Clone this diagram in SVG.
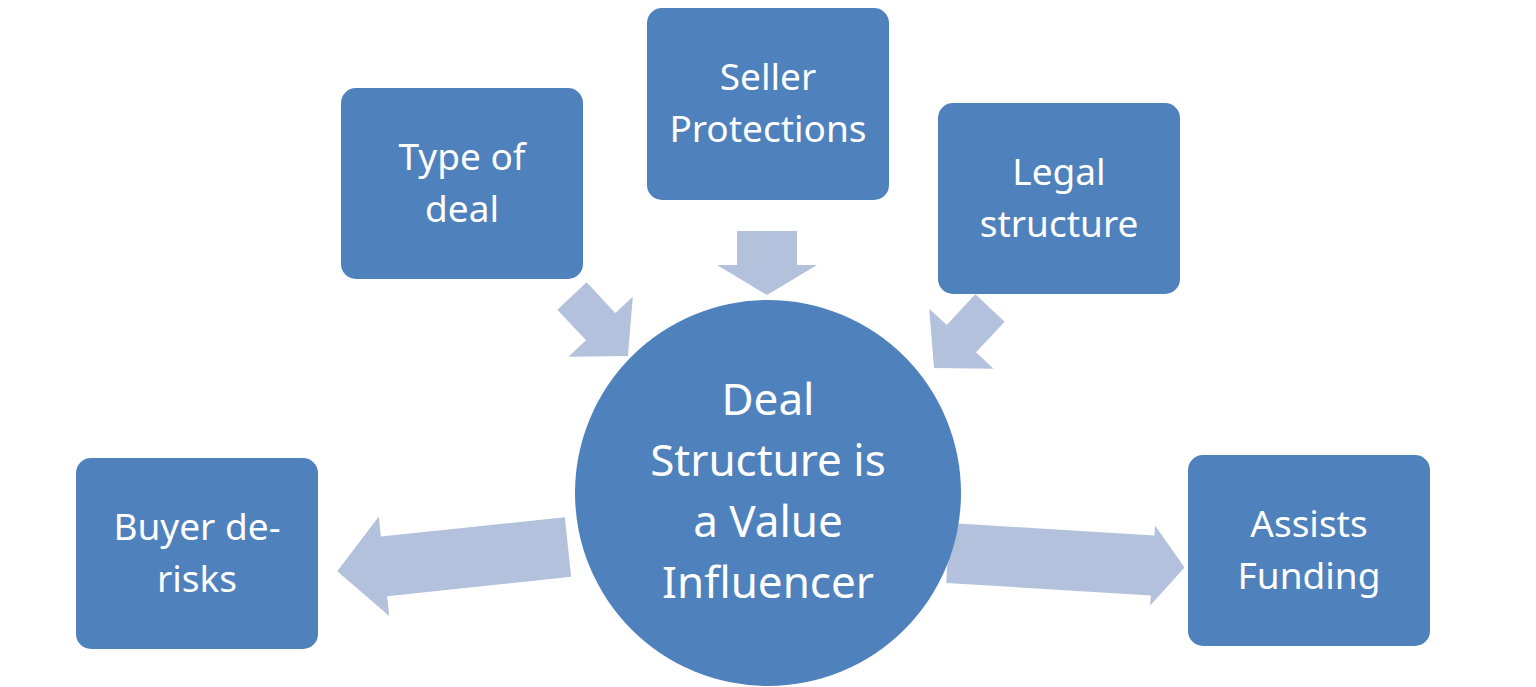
<svg xmlns="http://www.w3.org/2000/svg" width="1536" height="687" viewBox="0 0 1536 687">
<style>
.box{fill:#4F81BD;}
.arr{fill:#B3C1DD;}
.t{font-family:"Noto Sans","Open Sans",sans-serif;font-size:37px;fill:#fff;text-anchor:middle;}
.c{font-size:44px;}
</style>
<rect width="1536" height="687" fill="#fff"/>
<g id="connectors">
<polygon class="arr" points="0,-20 42,-20 42,-44 82,0 42,44 42,20 0,20" transform="translate(572,296) rotate(47)"/>
<polygon class="arr" points="737,231 797,231 797,265 817,265 767,295 717,265 737,265"/>
<polygon class="arr" points="0,-20 42,-20 42,-44 82,0 42,44 42,20 0,20" transform="translate(990,308) rotate(133)"/>
<polygon class="arr" points="0,-30 185,-30 185,-50 232,0 185,50 185,30 0,30" transform="translate(568,547) rotate(174)"/>
<polygon class="arr" points="0,-30 205,-30 205,-40 237,0 205,40 205,30 0,30" transform="translate(948,553) rotate(3.5)"/>
</g>
<g id="center"><circle class="box" cx="768" cy="493" r="193"/>
<text class="t c" x="768"><tspan x="768" y="415">Deal</tspan><tspan x="768" y="476">Structure is</tspan><tspan x="768" y="537">a Value</tspan><tspan x="768" y="598">Influencer</tspan></text></g>
<g id="type"><rect class="box" x="341" y="88" width="242" height="191" rx="15"/>
<text class="t"><tspan x="462" y="170">Type of</tspan><tspan x="462" y="222">deal</tspan></text></g>
<g id="seller"><rect class="box" x="647" y="8" width="242" height="192" rx="15"/>
<text class="t"><tspan x="768" y="90">Seller</tspan><tspan x="768" y="142">Protections</tspan></text></g>
<g id="legal"><rect class="box" x="938" y="103" width="242" height="191" rx="15"/>
<text class="t"><tspan x="1059" y="185">Legal</tspan><tspan x="1059" y="237">structure</tspan></text></g>
<g id="buyer"><rect class="box" x="76" y="458" width="242" height="191" rx="15"/>
<text class="t"><tspan x="197" y="540">Buyer de-</tspan><tspan x="197" y="592">risks</tspan></text></g>
<g id="funding"><rect class="box" x="1188" y="455" width="242" height="191" rx="15"/>
<text class="t"><tspan x="1309" y="537">Assists</tspan><tspan x="1309" y="589">Funding</tspan></text></g>
</svg>
